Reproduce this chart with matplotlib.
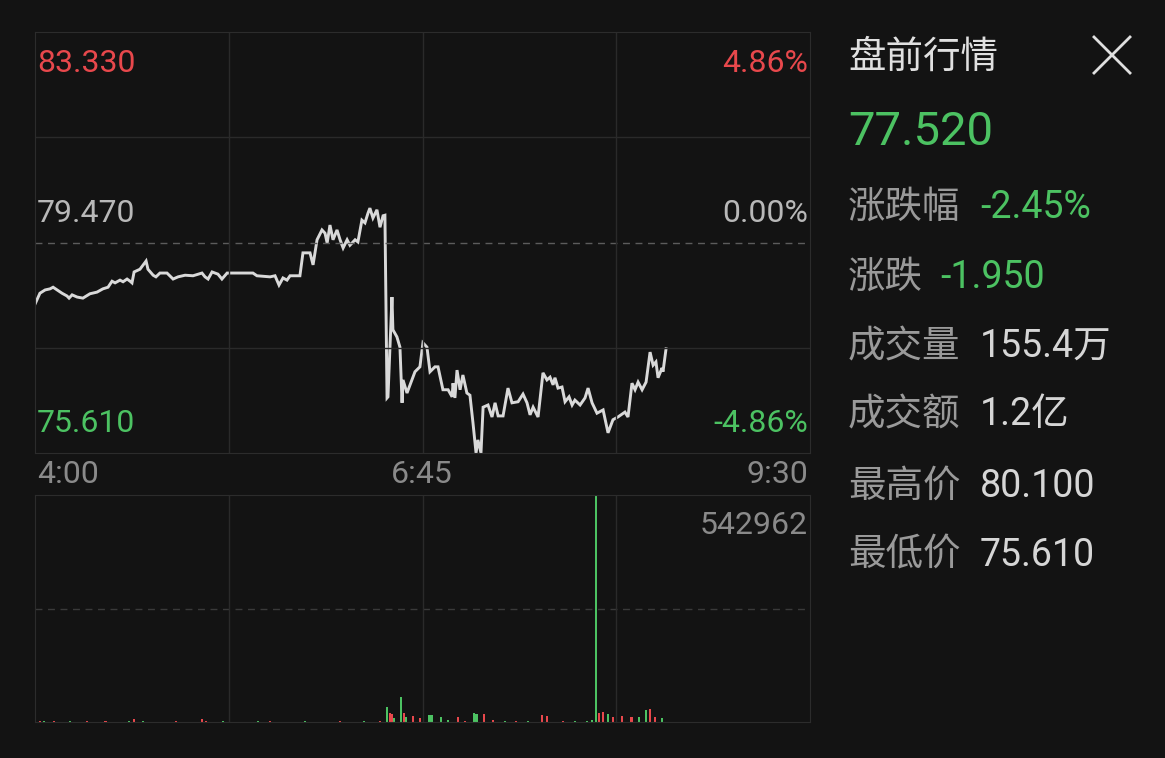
import matplotlib.pyplot as plt
import numpy as np

# pre-market intraday data (minutes after 4:00)
minutes = [0, 2.1, 4.3, 6.4, 7.7, 9.4, 11.5, 13.6, 14.5, 15.8,
           17.9, 20.4, 23.4, 26.4, 28.9, 31.1, 32.8, 34.1, 36.2, 37.5,
           39.2, 40.5, 41.3, 42.2, 44.7, 47.3, 48.1, 50.3, 51.5, 53.2,
           56.2, 58.8, 60.9, 63.9, 67.3, 71.1, 72.4, 73.7, 75.4, 77.9,
           79.6, 81.8, 86.0, 92.8, 94.5, 100.1, 102.2, 103.9, 105.6, 107.3,
           108.6, 112.8, 114.1, 117.1, 118.4, 120.1, 122.2, 123.5, 124.4, 125.6,
           126.9, 128.6, 129.9, 131.2, 132.9, 134.1, 136.3, 137.5, 139.2, 140.5,
           141.8, 142.6, 143.9, 145.6, 146.9, 148.2, 149.0, 149.9, 150.3, 152.0,
           152.4, 154.1, 155.4, 156.3, 156.7, 158.4, 160.5, 161.8, 163.9, 165.2,
           166.9, 168.2, 170.3, 171.6, 173.7, 175.9, 177.6, 178.0, 178.8, 179.7,
           181.0, 182.2, 183.9, 185.2, 186.5, 187.8, 188.6, 189.9, 190.8, 192.9,
           194.6, 195.9, 197.2, 199.3, 201.4, 203.1, 205.7, 207.8, 209.5, 210.8,
           212.1, 214.2, 216.3, 218.0, 219.3, 220.6, 221.4, 222.7, 224.4, 225.7,
           227.4, 228.7, 229.9, 232.1, 234.2, 235.5, 237.2, 239.3, 241.9, 244.0,
           246.1, 248.2, 251.2, 252.5, 254.2, 255.5, 256.8, 258.5, 260.2, 261.9,
           263.2, 264.4, 265.3, 267.0, 267.4, 268.7]
prices = [78.34, 78.54, 78.60, 78.62, 78.65, 78.60, 78.54, 78.49, 78.45, 78.51,
          78.47, 78.45, 78.53, 78.56, 78.62, 78.65, 78.76, 78.73, 78.78, 78.75,
          78.80, 78.76, 78.73, 78.93, 78.98, 79.13, 78.98, 78.87, 78.84, 78.91,
          78.91, 78.80, 78.84, 78.87, 78.86, 78.91, 78.84, 78.80, 78.93, 78.89,
          78.80, 78.91, 78.91, 78.91, 78.86, 78.84, 78.86, 78.69, 78.82, 78.78,
          78.86, 78.86, 79.28, 79.28, 79.06, 79.52, 79.70, 79.64, 79.46, 79.79,
          79.52, 79.70, 79.52, 79.37, 79.52, 79.42, 79.52, 79.48, 79.88, 79.83,
          80.01, 80.10, 79.92, 80.07, 79.75, 79.96, 79.97, 76.62, 76.64, 78.47,
          77.87, 77.74, 77.55, 76.53, 76.95, 76.71, 76.95, 77.10, 77.19, 77.63,
          77.55, 77.10, 77.19, 77.19, 76.77, 76.77, 76.64, 76.89, 76.62, 77.13,
          76.77, 77.04, 76.71, 76.67, 76.16, 75.61, 75.85, 75.61, 76.45, 76.49,
          76.27, 76.53, 76.29, 76.29, 76.80, 76.53, 76.55, 76.69, 76.53, 76.31,
          76.45, 76.27, 77.08, 76.95, 77.00, 76.86, 76.99, 76.80, 76.82, 76.55,
          76.64, 76.49, 76.58, 76.49, 76.62, 76.80, 76.53, 76.34, 76.40, 75.98,
          76.22, 76.27, 76.36, 76.27, 76.89, 76.77, 76.91, 76.77, 76.91, 77.46,
          77.22, 77.28, 76.99, 77.17, 77.10, 77.52]

vol_minutes = [0, 2, 4, 8, 15, 22, 30, 40, 42, 46,
               60, 71, 73, 80, 95, 100, 115, 130, 140, 147,
               150, 151, 152, 153, 156, 157, 158, 161, 164, 168,
               169, 173, 176, 180, 183, 187, 188, 191, 195, 200,
               205, 210, 216, 218, 225, 230, 235, 237, 239, 240,
               242, 244, 246, 250, 254, 257, 260, 262, 264, 267]
volumes = [4000, 3000, 2500, 2000, 1500, 2000, 1500, 1500, 8000, 3000,
           2000, 7000, 3000, 2000, 1500, 2000, 2000, 2500, 2000, 2500,
           35900, 21500, 19000, 9600, 59800, 21500, 12000, 14400, 9600, 16700,
           16700, 12000, 4000, 12000, 3000, 21500, 19000, 19100, 4000, 3000,
           3500, 3000, 16700, 14000, 3000, 2500, 3000, 5000, 542962, 21500,
           23900, 19100, 12000, 14400, 12000, 12000, 28700, 31100, 12000, 9600]
vol_up = "rrgrgrrgrg" "rrrggrgrgr" "grrggrgrrg" "gggrrggrrg" "rgrrrggggr" "rgrrrggrrg"

prev_close = 79.47
price_top, price_bottom = 83.33, 75.61
vol_max = 542962

RED = '#e8484c'
GREEN = '#4cc262'
BG = '#131313'
GRID = '#2a2a2a'

plt.rcParams['font.family'] = ['Roboto', 'Noto Sans CJK SC', 'DejaVu Sans']

W, H = 1165, 758
fig = plt.figure(figsize=(W / 100, H / 100), dpi=100, facecolor=BG)


def px_ax(x0, y0, x1, y1):
    return fig.add_axes([x0 / W, 1 - y1 / H, (x1 - x0) / W, (y1 - y0) / H])


def ftext(x, y, s, **kw):
    fig.text(x / W, 1 - y / H, s, va='center', **kw)


# price panel
ax = px_ax(35, 32, 810, 453)
ax.set_facecolor(BG)
ax.plot(minutes, prices, color='#d9d9d9', lw=2.1, solid_joinstyle='miter')
ax.axhline(prev_close, color='#5c5c5c', lw=1, dashes=(5, 4))
for p in [(price_top + prev_close) / 2, (prev_close + price_bottom) / 2]:
    ax.axhline(p, color=GRID, lw=1)
for m in [82.5, 165, 247.5]:
    ax.axvline(m, color=GRID, lw=1)
ax.set_xlim(0, 330)
ax.set_ylim(price_bottom, price_top)
ax.set_xticks([])
ax.set_yticks([])
for s in ax.spines.values():
    s.set_color('#2c2c2c')

# volume panel
vax = px_ax(35, 495, 810, 722)
vax.set_facecolor(BG)
cols = [RED if c == 'r' else GREEN for c in vol_up]
vax.bar(vol_minutes, volumes, width=0.9, color=cols)
vax.axhline(vol_max / 2, color='#3a3a3a', lw=1, dashes=(5, 4))
for m in [82.5, 165, 247.5]:
    vax.axvline(m, color=GRID, lw=1)
vax.set_xlim(0, 330)
vax.set_ylim(0, vol_max)
vax.set_xticks([])
vax.set_yticks([])
for s in vax.spines.values():
    s.set_color('#2c2c2c')

# axis labels
fs = 23
ftext(37, 63, '83.330', color=RED, fontsize=fs)
ftext(808, 63, '4.86%', color=RED, fontsize=fs, ha='right')
ftext(37, 214, '79.470', color='#b8b8b8', fontsize=fs)
ftext(808, 214, '0.00%', color='#b8b8b8', fontsize=fs, ha='right')
ftext(37, 424, '75.610', color=GREEN, fontsize=fs)
ftext(808, 424, '-4.86%', color=GREEN, fontsize=fs, ha='right')
ftext(37, 474, '4:00', color='#8a8a8a', fontsize=fs)
ftext(422, 474, '6:45', color='#8a8a8a', fontsize=fs, ha='center')
ftext(808, 474, '9:30', color='#8a8a8a', fontsize=fs, ha='right')
ftext(808, 526, '542962', color='#8a8a8a', fontsize=fs, ha='right')

# side panel
ftext(848, 57, '盘前行情', color='#e0e0e0', fontsize=27)
fig.add_artist(plt.Line2D([1094 / W, 1130 / W], [1 - 37 / H, 1 - 73 / H], color='#e0e0e0', lw=2))
fig.add_artist(plt.Line2D([1130 / W, 1094 / W], [1 - 37 / H, 1 - 73 / H], color='#e0e0e0', lw=2))
ftext(848, 132, '77.520', color=GREEN, fontsize=34)

rows = [('涨跌幅', '-2.45%', 980, GREEN, 207),
        ('涨跌', '-1.950', 940, GREEN, 277),
        ('成交量', '155.4万', 980, '#d6d6d6', 347),
        ('成交额', '1.2亿', 980, '#d6d6d6', 415),
        ('最高价', '80.100', 980, '#d6d6d6', 486),
        ('最低价', '75.610', 980, '#d6d6d6', 555)]
for lab, val, vx, vc, y in rows:
    ftext(848, y, lab, color='#9a9a9a', fontsize=27)
    ftext(vx, y, val, color=vc, fontsize=27)

fig.savefig('out.png', dpi=100, facecolor=BG)
